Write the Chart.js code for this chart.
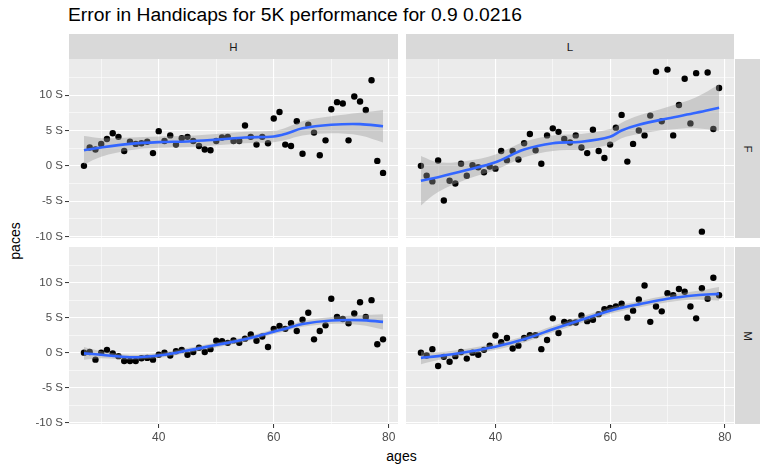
<!DOCTYPE html>
<html><head><meta charset="utf-8">
<script src="https://cdn.jsdelivr.net/npm/chart.js@4.4.1/dist/chart.umd.min.js"></script>
<style>
html,body{margin:0;padding:0;background:#fff;}
#wrap{position:relative;width:768px;height:474px;overflow:hidden;font-family:"Liberation Sans",Arial,sans-serif;}
canvas.c{position:absolute;left:0;top:0;}
.strip{position:absolute;background:#D9D9D9;color:#1A1A1A;font-size:11.5px;display:flex;align-items:center;justify-content:center;}
.rot{transform:rotate(90deg);display:inline-block;}
#title{position:absolute;left:68px;top:5px;font-size:18px;color:#000;white-space:nowrap;transform:scaleX(1.07);transform-origin:left center;}
#xt{position:absolute;left:69px;width:665px;top:448px;text-align:center;font-size:14px;color:#000;}
#yt{position:absolute;left:5px;top:241px;font-size:14px;color:#000;transform:translate(-50%,-50%) rotate(-90deg);transform-origin:center;margin-left:10px;}
</style></head>
<body><div id="wrap">
<div id="title">Error in Handicaps for 5K performance for 0.9 0.0216</div>
<div class="strip" style="left:69px;top:34px;width:329px;height:25px;">H</div>
<div class="strip" style="left:406px;top:34px;width:328px;height:25px;">L</div>
<div class="strip" style="left:735px;top:59px;width:25px;height:179px;"><span class="rot">F</span></div>
<div class="strip" style="left:735px;top:247px;width:25px;height:177px;"><span class="rot">M</span></div>
<div id="xt">ages</div>
<div id="yt">paces</div>
<canvas class="c" id="c0" width="768" height="474"></canvas>
<canvas class="c" id="c1" width="768" height="474"></canvas>
<canvas class="c" id="c2" width="768" height="474"></canvas>
<canvas class="c" id="c3" width="768" height="474"></canvas>
</div>
<script>
// ---- data ----
const ages = [27,28,29,30,31,32,33,34,35,36,37,38,39,40,41,42,43,44,45,46,47,48,49,50,51,52,53,54,55,56,57,58,59,60,61,62,63,64,65,66,67,68,69,70,71,72,73,74,75,76,77,78,79];
const facetCols = ["H","L"];
const facetRows = ["F","M"];
const yTickLabels = ["-10 S","-5 S","0 S","5 S","10 S"];
const xTickLabels = ["40","60","80"];

const paceHF = [0.0,2.6,2.3,3.1,3.8,4.6,4.1,2.1,3.4,3.1,3.2,3.4,1.8,4.9,3.5,4.3,3.0,3.9,4.1,3.5,2.8,2.3,2.2,3.5,4.0,4.1,3.5,3.5,5.7,4.1,3.0,4.1,3.2,6.7,7.6,3.0,2.8,6.3,1.7,5.8,4.7,1.5,3.6,8.0,9.0,8.8,3.6,9.8,9.1,7.9,12.1,0.7,-1.0];
const paceLF = [0.0,-1.4,-2.2,0.75,-4.9,-2.1,-2.5,0.3,-1.4,0.1,-0.2,-0.9,-0.1,-0.4,2.1,0.8,2.1,0.9,3.2,4.5,2.2,0.3,4.3,5.3,4.8,3.8,3.3,4.3,2.6,1.8,5.1,2.1,1.1,3.0,5.4,7.2,0.6,3.1,5.0,4.3,7.1,13.3,6.3,13.6,4.3,8.6,12.3,6.0,13.1,-9.3,13.2,5.2,11.0];
const paceHM = [0.0,0.1,-1.0,0.0,0.4,-0.1,-0.5,-1.2,-1.2,-1.2,-0.8,-0.75,-1.0,-0.3,0.0,-0.4,0.2,0.4,-0.3,0.1,0.7,0.1,0.5,1.7,1.65,1.4,1.75,1.4,2.0,2.6,1.7,2.3,0.8,3.4,3.8,3.4,4.2,3.1,4.7,5.7,1.9,3.1,3.9,7.7,5.1,4.8,4.2,5.6,7.2,5.1,7.5,1.2,1.9];
const paceLM = [0.0,-0.4,0.5,-1.9,-0.6,-1.3,-0.5,0.1,-0.85,0.0,-0.3,0.4,1.0,2.45,1.5,2.1,0.6,1.0,2.1,2.5,2.5,0.5,1.8,4.9,2.8,4.4,4.3,4.3,5.3,4.5,4.7,5.5,6.2,6.4,6.6,7.0,5.0,6.0,7.6,9.6,4.4,6.6,5.9,8.5,8.2,9.1,8.7,6.6,4.9,9.2,7.7,10.7,8.2];

const smoothAges = [27,30,35,40,45,50,55,60,62,65,70,75,79];
const fitHF = [2.2,2.6,3.1,3.35,3.45,3.7,4.0,4.15,4.5,5.3,5.8,5.9,5.6];
const seHF  = [2.0,1.3,0.9,0.8,0.8,0.8,0.8,0.8,0.85,1.0,1.2,1.6,2.3];
const fitLF = [-2.1,-1.6,-0.6,0.5,2.3,3.2,3.4,4.1,5.0,5.8,6.7,7.5,8.2];
const seLF  = [3.5,2.1,1.3,1.1,1.1,1.1,1.1,1.1,1.1,1.3,1.6,2.2,3.3];
const fitHM = [-0.1,-0.3,-0.65,-0.4,0.3,1.1,1.9,3.0,3.4,4.1,4.6,4.65,4.4];
const seHM  = [0.9,0.5,0.35,0.35,0.35,0.35,0.35,0.35,0.35,0.4,0.5,0.7,1.1];
const fitLM = [-0.75,-0.5,0.1,0.85,1.9,3.35,4.7,6.0,6.4,6.9,7.7,8.2,8.4];
const seLM  = [0.9,0.55,0.45,0.45,0.45,0.45,0.45,0.45,0.45,0.45,0.5,0.6,1.0];

// ---- build ----
const panels = [
  {id:'c0', pace:paceHF, fit:fitHF, se:seHF, left:69, top:59, right:398, bottom:238, yAxis:true, xAxis:false},
  {id:'c1', pace:paceLF, fit:fitLF, se:seLF, left:406, top:59, right:734, bottom:238, yAxis:false, xAxis:false},
  {id:'c2', pace:paceHM, fit:fitHM, se:seHM, left:69, top:247, right:398, bottom:424, yAxis:true, xAxis:true},
  {id:'c3', pace:paceLM, fit:fitLM, se:seLM, left:406, top:247, right:734, bottom:424, yAxis:false, xAxis:true}
];
const Y_AXIS_W = 44, X_AXIS_H = 22;
const yTickVals = [-10,-7.5,-5,-2.5,0,2.5,5,7.5,10,12.5];
const xTickVals = [30,40,50,60,70,80];
const bgPlugin = {
  id:'panelbg',
  beforeDraw(chart){
    const a = chart.chartArea, ctx = chart.ctx;
    ctx.save(); ctx.fillStyle = '#EBEBEB';
    ctx.fillRect(a.left, a.top, a.right-a.left, a.bottom-a.top);
    ctx.restore();
  }
};
const isMajorY = v => Math.abs(v % 5) < 1e-9;
const isMajorX = v => Math.abs(v % 20) < 1e-9;

panels.forEach(p => {
  const pts = ages.map((a,i)=>({x:a, y:p.pace[i]}));
  const fitPts = smoothAges.map((a,i)=>({x:a, y:p.fit[i]}));
  const upPts = smoothAges.map((a,i)=>({x:a, y:p.fit[i]+p.se[i]}));
  const loPts = smoothAges.map((a,i)=>({x:a, y:p.fit[i]-p.se[i]}));
  const yw = p.yAxis ? Y_AXIS_W : 0;
  const xh = p.xAxis ? X_AXIS_H : 0;
  new Chart(document.getElementById(p.id), {
    type:'scatter',
    data:{datasets:[
      {type:'line', data:fitPts, borderColor:'#3366FF', borderWidth:2.6, pointRadius:0, fill:false, tension:0.35, order:0},
      {type:'line', data:upPts, borderWidth:0, borderColor:'rgba(0,0,0,0)', backgroundColor:'rgba(153,153,153,0.4)', pointRadius:0, fill:'+1', tension:0.35, order:1},
      {type:'line', data:loPts, borderWidth:0, borderColor:'rgba(0,0,0,0)', pointRadius:0, fill:false, tension:0.35, order:2},
      {data:pts, backgroundColor:'#000', borderColor:'#000', borderWidth:0, pointRadius:3.2, order:3}
    ]},
    options:{
      responsive:false, animation:false, devicePixelRatio:1,
      layout:{padding:{left:p.left-yw, top:p.top, right:768-p.right, bottom:474-p.bottom-xh}},
      plugins:{legend:{display:false}, tooltip:{enabled:false}},
      scales:{
        x:{type:'linear', min:24.4, max:81.6,
          afterBuildTicks: s => { s.ticks = xTickVals.map(v=>({value:v})); },
          afterFit: s => { s.height = xh; },
          border:{display:false},
          grid:{color:'#FFFFFF', lineWidth: c => isMajorX(c.tick.value-40) ? 1.1 : 0.55,
                drawTicks:p.xAxis, tickLength:4, tickWidth:1,
                tickColor: c => (c.tick && (c.tick.value===40||c.tick.value===60||c.tick.value===80)) ? '#333333' : 'rgba(0,0,0,0)'},
          ticks:{display:p.xAxis, color:'#4D4D4D', font:{family:'"Liberation Sans", Arial, sans-serif', size:12}, padding:2, maxRotation:0, autoSkip:false,
            callback: v => { const i = [40,60,80].indexOf(v); return i>=0 ? xTickLabels[i] : ''; }}
        },
        y:{type:'linear', min:-10.2, max:15.1,
          afterBuildTicks: s => { s.ticks = yTickVals.map(v=>({value:v})); },
          afterFit: s => { s.width = yw; },
          border:{display:false},
          grid:{color:'#FFFFFF', lineWidth: c => isMajorY(c.tick.value) ? 1.1 : 0.55,
                drawTicks:p.yAxis, tickLength:4, tickWidth:1,
                tickColor: c => (c.tick && isMajorY(c.tick.value)) ? '#333333' : 'rgba(0,0,0,0)'},
          ticks:{display:p.yAxis, color:'#4D4D4D', font:{family:'"Liberation Sans", Arial, sans-serif', size:11.5}, padding:2, autoSkip:false,
            callback: v => { const i = [-10,-5,0,5,10].indexOf(v); return i>=0 ? yTickLabels[i] : ''; }}
        }
      }
    },
    plugins:[bgPlugin]
  });
});
</script>
</body></html>
